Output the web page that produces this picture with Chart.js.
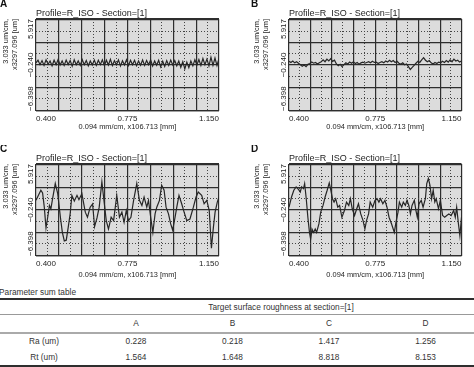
<!DOCTYPE html>
<html>
<head>
<meta charset="utf-8">
<script src="https://cdn.jsdelivr.net/npm/chart.js@4/dist/chart.umd.min.js"></script>
<style>
html,body{margin:0;padding:0;width:474px;height:367px;overflow:hidden;background:#fff;font-family:"Liberation Sans",Arial,Helvetica,sans-serif;}
.panel{position:absolute;width:237px;height:140px;}
#cA{left:0;top:0}
#cB{left:237px;top:0}
#cC{left:0;top:145px}
#cD{left:237px;top:145px}
#caption{position:absolute;left:-1px;top:287px;height:10px;line-height:10px;font-size:8.3px;color:#333;white-space:nowrap;}
#tbl{position:absolute;left:0;top:298px;width:474px;table-layout:fixed;border-collapse:separate;border-spacing:0;font-size:8.3px;color:#333;border-top:2px solid #2e2e2e;border-bottom:3px solid #2e2e2e;}
#tbl td{padding:0;text-align:center;white-space:nowrap;}
#tbl td div{overflow:visible;}
#tbl tr.r1 td{border-bottom:1px solid #999;}
#tbl tr.r1 td div{height:14px;line-height:14px;}
#tbl tr.r2 td{border-bottom:2px solid #aaa;}
#tbl tr.r2 td div{height:17px;line-height:17px;}
#tbl tr.r3 td div{height:15px;line-height:15px;}
#tbl tr.r4 td div{height:16px;line-height:16px;}
</style>
</head>
<body>
<canvas id="cA" class="panel" width="237" height="140"></canvas>
<canvas id="cB" class="panel" width="237" height="140"></canvas>
<canvas id="cC" class="panel" width="237" height="140"></canvas>
<canvas id="cD" class="panel" width="237" height="140"></canvas>
<div id="caption">Parameter sum table</div>
<table id="tbl"></table>
<script>
// ---------- axis ranges and labels ----------
const xMin = 0.400, xMax = 1.150;
const yMin = -6.398, yMax = 5.917;
const xTickLabels = ['0.400', '0.775', '1.150'];
const yTickLabels = ['\u22126.398', '\u22120.240', '5.917'];
const xGridStep = 0.094 / 2;   // "0.094 mm/cm" (solid) with dotted half-steps
const yGridStep = 3.033 / 2;   // "3.033 um/cm" (solid) with dotted half-steps
const profileTitle = 'Profile=R_ISO - Section=[1]';
const xTitle = '0.094 mm/cm, x106.713 [mm]';
const yTitle = ['3.033 um/cm,', 'x3297.096 [um]'];
const panelLetters = ['A', 'B', 'C', 'D'];

// ---------- profiles (um) ----------
// A and B: uniformly sampled over [xMin, xMax]
const profileA = [
 0.05, 0.40, -0.20, 0.35, -0.30, 0.45, -0.15, 0.30, -0.35, 0.40,
 -0.20, 0.50, -0.25, 0.30, -0.30, 0.42, -0.18, 0.35, -0.40, 0.45,
 -0.22, 0.30, -0.28, 0.48, -0.20, 0.36, -0.35, 0.30, -0.25, 0.42,
 -0.30, 0.38, -0.18, 0.45, -0.32, 0.40, -0.25, 0.52, -0.30, 0.34,
 -0.22, 0.44, -0.36, 0.32, -0.24, 0.46, -0.30, 0.40, -0.20, 0.38,
 -0.34, 0.30, -0.26, 0.44, -0.30, 0.36, -0.22, 0.42, -0.38, 0.30,
 -0.28, 0.40, -0.50, 0.25, -0.45, 0.35, -0.30, 0.42, -0.25, 0.36,
 -0.35, 0.30, -0.55, 0.20, -0.76, 0.15, -0.60, 0.30, -0.35, 0.45,
 -0.25, 0.50, -0.30, 0.62, -0.20, 0.55, -0.35, 0.80, -0.28, 0.70,
 -0.30, 0.60
];
const profileB = [
 0.25, 0.10, 0.30, 0.05, 0.20, 0.00,
 -0.20, -0.40, -0.25, -0.45, -0.15,
 -0.05, 0.15, 0.00, 0.10, -0.10, 0.05, 0.20,
 0.45, 0.20, 0.55, 0.30, 0.60, 0.25, 0.40,
 -0.10, -0.35, -0.15, -0.45, -0.20,
 0.05, -0.10, 0.15, 0.00, 0.20, -0.05, 0.10, -0.15, 0.05, 0.15, 0.00,
 0.10, 0.20, 0.05, 0.25, 0.10, 0.15, -0.05, 0.10, 0.20, 0.05,
 0.30, 0.15, 0.40, 0.20, 0.35, 0.10, 0.25,
 0.00, -0.15, 0.05, -0.20, -0.10,
 -0.45, -0.85, -0.55, -0.30,
 0.00, 0.25, 0.10, 0.45, 0.75, 0.40, 0.20, 0.35,
 0.05, -0.10, 0.10, -0.05, 0.15, 0.05,
 0.25, 0.10, 0.35, 0.15, 0.45, 0.20, 0.55, 0.30, 0.40, 0.15, 0.30
];
// C and D: positions (mm) and heights (um)
const profileCx = [0.400,0.410,0.420,0.427,0.434,0.441,0.448,0.455,0.461,0.468,0.479,0.489,0.500,0.508,0.516,0.524,0.532,0.540,0.547,0.557,0.568,0.576,0.588,0.602,0.611,0.622,0.632,0.640,0.650,0.659,0.670,0.680,0.688,0.697,0.708,0.718,0.731,0.742,0.752,0.761,0.770,0.779,0.789,0.800,0.813,0.824,0.834,0.843,0.854,0.861,0.870,0.879,0.888,0.895,0.906,0.915,0.925,0.933,0.943,0.952,0.960,0.970,0.977,0.986,0.997,1.007,1.018,1.031,1.045,1.056,1.065,1.079,1.089,1.100,1.110,1.119,1.127,1.134,1.143,1.150];
const profileCy = [1.05,1.72,2.40,2.04,0.14,-2.65,-1.21,0.37,-0.08,1.27,3.30,1.95,-1.21,-3.24,-4.37,-4.28,-2.56,-0.76,1.72,0.96,1.72,1.14,1.95,-0.53,-1.21,0.14,0.59,-2.47,-1.30,0.14,3.53,0.59,-1.66,-2.79,-1.21,-1.66,1.72,-1.21,-0.53,-1.89,-0.31,-1.66,-1.21,1.05,3.30,1.05,0.37,1.50,0.14,1.05,-1.21,-3.24,-0.76,0.14,1.05,3.07,2.40,0.14,-0.76,-2.11,-2.92,-1.21,0.14,1.72,0.59,-0.53,-1.66,-1.44,0.14,1.50,2.17,1.72,0.59,1.05,-0.31,-5.36,-2.56,-0.53,0.82,1.50];
const profileDx = [0.400,0.411,0.421,0.431,0.442,0.449,0.455,0.463,0.468,0.475,0.482,0.489,0.494,0.500,0.507,0.514,0.520,0.530,0.538,0.548,0.557,0.566,0.575,0.582,0.589,0.596,0.603,0.612,0.620,0.630,0.641,0.650,0.660,0.667,0.675,0.685,0.692,0.702,0.712,0.722,0.730,0.737,0.746,0.753,0.764,0.774,0.783,0.791,0.798,0.808,0.817,0.826,0.835,0.846,0.858,0.865,0.874,0.880,0.890,0.897,0.906,0.913,0.921,0.928,0.935,0.945,0.952,0.958,0.965,0.975,0.983,0.993,0.999,1.006,1.013,1.020,1.027,1.034,1.040,1.050,1.058,1.068,1.077,1.086,1.095,1.105,1.116,1.123,1.129,1.136,1.143,1.150];
const profileDy = [0.14,1.50,2.40,2.85,2.49,2.17,2.85,2.62,3.30,1.27,-1.21,-3.24,-4.14,-2.79,-3.24,-2.79,-3.24,-2.11,-0.53,0.37,1.50,2.40,3.39,2.40,1.27,0.82,1.27,0.14,0.37,-1.21,-0.31,0.82,0.37,1.27,-0.08,-0.98,-0.31,0.59,-0.76,-1.66,-2.79,-1.66,-0.76,0.82,0.14,1.05,1.27,0.82,1.27,0.59,1.05,0.14,-1.21,-2.11,-3.24,-1.89,-0.53,0.82,0.14,0.82,0.37,1.05,0.37,-0.76,0.37,1.05,-0.31,-1.21,0.59,1.05,0.14,1.27,3.30,3.98,3.07,1.27,2.40,0.82,1.27,-0.08,1.05,-0.98,-1.21,-0.98,-0.76,-0.98,-0.31,-1.21,0.14,-1.89,-3.69,-1.21];

// ---------- table ----------
const tableHeader = 'Target surface roughness at section=[1]';
const tableColumns = ['A', 'B', 'C', 'D'];
const rowNames = ['Ra (um)', 'Rt (um)'];
const raValues = ['0.228', '0.218', '1.417', '1.256'];
const rtValues = ['1.564', '1.648', '8.818', '8.153'];

// ---------- build helpers ----------
Chart.defaults.font.family = '"Liberation Sans", Arial, Helvetica, sans-serif';
Chart.defaults.color = '#1e1e1e';

function uniformPoints(vals) {
  const n = vals.length;
  return vals.map((v, i) => ({x: xMin + (xMax - xMin) * i / (n - 1), y: v}));
}
function pairedPoints(xs, ys) {
  return xs.map((x, i) => ({x: x, y: ys[i]}));
}
function gridTicks(min, max, step) {
  const mid = (min + max) / 2;
  const n = Math.floor((mid - min) / step - 1e-9);
  const t = [{value: min, kind: 'edge', li: 0}];
  for (let k = -n; k <= n; k++) {
    t.push({value: mid + k * step, kind: (k % 2 === 0) ? 'solid' : 'dot', li: k === 0 ? 1 : -1});
  }
  t.push({value: max, kind: 'edge', li: 2});
  return t;
}
const gridColor = ctx => (ctx.tick && ctx.tick.kind === 'dot') ? '#444' : '#2e2e2e';
const gridWidth = ctx => (ctx.tick && ctx.tick.kind === 'dot') ? 1 : 1.2;
const gridDash = ctx => (ctx.tick && ctx.tick.kind === 'dot') ? [1, 2] : [];

const panelPlugin = {
  id: 'panelPlugin',
  beforeDraw(chart) {
    const {ctx, chartArea: a} = chart;
    ctx.save();
    ctx.fillStyle = '#dcdcdc';
    ctx.fillRect(a.left, a.top, a.right - a.left, a.bottom - a.top);
    ctx.restore();
    const xs = chart.scales.x;
    xs.getLabelItems().forEach(it => {
      if (it.label === xTickLabels[0]) it.options.textAlign = 'left';
      else if (it.label === xTickLabels[2]) it.options.textAlign = 'right';
    });
    const ys = chart.scales.y;
    const yAlign = ['left', 'center', 'right'];
    ys.getLabelItems().forEach(it => {
      const j = yTickLabels.indexOf(it.label);
      if (j >= 0) {
        it.options.textAlign = yAlign[j];
        it.options.textBaseline = 'alphabetic';
        it.options.translation = [ys.right - 3, it.options.translation[1]];
      }
    });
  }
};

function makePanel(id, letter, points, cfg) {
  new Chart(document.getElementById(id), {
    type: 'line',
    data: {datasets: [{data: points, xAxisID: 'x', yAxisID: 'y', borderColor: '#262626', borderWidth: 1.2, pointRadius: 0, tension: 0, fill: false}]},
    options: {
      responsive: false, animation: false, devicePixelRatio: 1,
      layout: {padding: {left: cfg.padLeft, right: cfg.padRight, top: 0, bottom: 0}},
      plugins: {
        legend: {display: false}, tooltip: {enabled: false},
        title: {display: true, text: letter, align: 'start', color: '#111',
          font: {size: 10, weight: 'bold', lineHeight: 0.8}, padding: {top: 0, bottom: 0}}
      },
      scales: {
        x: {
          type: 'linear', position: 'bottom', min: xMin, max: xMax,
          afterBuildTicks: s => { s.ticks = gridTicks(xMin, xMax, xGridStep); },
          afterFit: s => { s.height = 29; },
          ticks: {autoSkip: false, minRotation: 0, maxRotation: 0, padding: 2.5, font: {size: 8},
            callback: (v, i, t) => t[i].li >= 0 ? xTickLabels[t[i].li] : ''},
          grid: {drawTicks: false, color: gridColor, lineWidth: gridWidth},
          border: {display: false, dash: gridDash},
          title: {display: true, text: xTitle, font: {size: 7.4}, padding: {top: 0, bottom: cfg.xTitlePad}}
        },
        x2: {
          type: 'linear', position: 'top', min: xMin, max: xMax,
          afterFit: s => { s.height = 11; },
          ticks: {display: false},
          grid: {display: false, drawTicks: false},
          border: {display: false},
          title: {display: true, text: profileTitle, align: 'start', font: {size: 9}, padding: {top: 0.2, bottom: 0.5}}
        },
        y: {
          type: 'linear', position: 'left', min: yMin, max: yMax,
          afterBuildTicks: s => { s.ticks = gridTicks(yMin, yMax, yGridStep); },
          afterFit: s => { s.width = cfg.yWidth; },
          ticks: {autoSkip: false, minRotation: 90, maxRotation: 90, padding: 3, font: {size: 8},
            callback: (v, i, t) => t[i].li >= 0 ? yTickLabels[t[i].li] : ''},
          grid: {drawTicks: false, color: gridColor, lineWidth: gridWidth},
          border: {display: false, dash: gridDash},
          title: {display: true, text: yTitle, align: 'end', font: {size: 7.4, lineHeight: 1.23}, padding: {top: 1, bottom: 0}}
        }
      }
    },
    plugins: [panelPlugin]
  });
}

makePanel('cA', panelLetters[0], uniformPoints(profileA), {padLeft: 0, padRight: 18, yWidth: 36, xTitlePad: 8.1});
makePanel('cB', panelLetters[1], uniformPoints(profileB), {padLeft: 14, padRight: 2, yWidth: 38, xTitlePad: 8.1});
makePanel('cC', panelLetters[2], pairedPoints(profileCx, profileCy), {padLeft: 0, padRight: 18, yWidth: 36, xTitlePad: 5.6});
makePanel('cD', panelLetters[3], pairedPoints(profileDx, profileDy), {padLeft: 14, padRight: 2, yWidth: 38, xTitlePad: 5.6});

// table
(function buildTable() {
  const tbl = document.getElementById('tbl');
  const cg = document.createElement('colgroup');
  [88, 96, 97, 96, 97].forEach(w => { const c = document.createElement('col'); c.style.width = w + 'px'; cg.appendChild(c); });
  tbl.appendChild(cg);
  function row(cls, cells) {
    const tr = document.createElement('tr');
    tr.className = cls;
    cells.forEach(c => {
      const td = document.createElement('td');
      if (c.span) td.colSpan = c.span;
      const d = document.createElement('div');
      d.textContent = c.text;
      td.appendChild(d);
      tr.appendChild(td);
    });
    tbl.appendChild(tr);
  }
  row('r1', [{text: ''}, {text: tableHeader, span: 4}]);
  row('r2', [{text: ''}].concat(tableColumns.map(t => ({text: t}))));
  row('r3', [{text: rowNames[0]}].concat(raValues.map(t => ({text: t}))));
  row('r4', [{text: rowNames[1]}].concat(rtValues.map(t => ({text: t}))));
})();
</script>
</body>
</html>
